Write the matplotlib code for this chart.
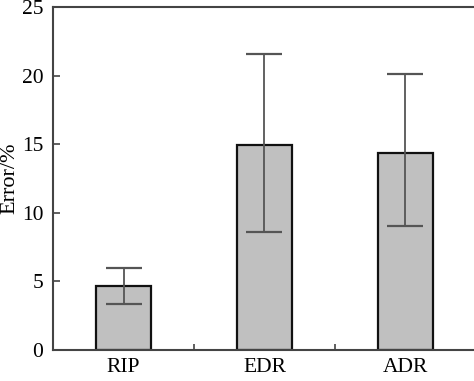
import matplotlib.pyplot as plt
import numpy as np

plt.rcParams['font.family'] = ['Liberation Serif', 'DejaVu Serif']

methods = ['RIP', 'EDR', 'ADR']
error_mean = [4.65, 14.95, 14.35]
err_low = [3.35, 8.6, 9.05]
err_high = [5.95, 21.6, 20.1]

x = np.arange(len(methods))
lower = np.array(error_mean) - np.array(err_low)
upper = np.array(err_high) - np.array(error_mean)

fig = plt.figure(figsize=(4.74, 3.81), dpi=100)
ax = fig.add_axes([0.112, 0.0814, 0.892, 0.9002])

ax.bar(x, error_mean, width=0.39, color='#c0c0c0', edgecolor='#111111', linewidth=1.6, zorder=2)
ax.errorbar(x, error_mean, yerr=[lower, upper], fmt='none', ecolor='#555555',
            elinewidth=1.3, capsize=13, capthick=1.6, zorder=3)

ax.set_xlim(-0.5, 2.5)
ax.set_ylim(0, 25)
ax.set_yticks([0, 5, 10, 15, 20, 25])
ax.set_xticks(x)
ax.set_xticklabels(methods)
ax.set_xticks([0.5, 1.5], minor=True)
ax.tick_params(axis='x', which='major', length=0, pad=6, labelsize=15.5)
ax.tick_params(axis='x', which='minor', direction='in', length=4, width=1.2, color='#444444')
ax.tick_params(axis='y', direction='in', length=5, width=1.2, color='#444444', labelsize=15.5, pad=7)
ax.set_ylabel('Error/%', fontsize=16, labelpad=2)

for s in ax.spines.values():
    s.set_linewidth(1.5)
    s.set_color('#444444')

fig.savefig('out.png', dpi=100)
